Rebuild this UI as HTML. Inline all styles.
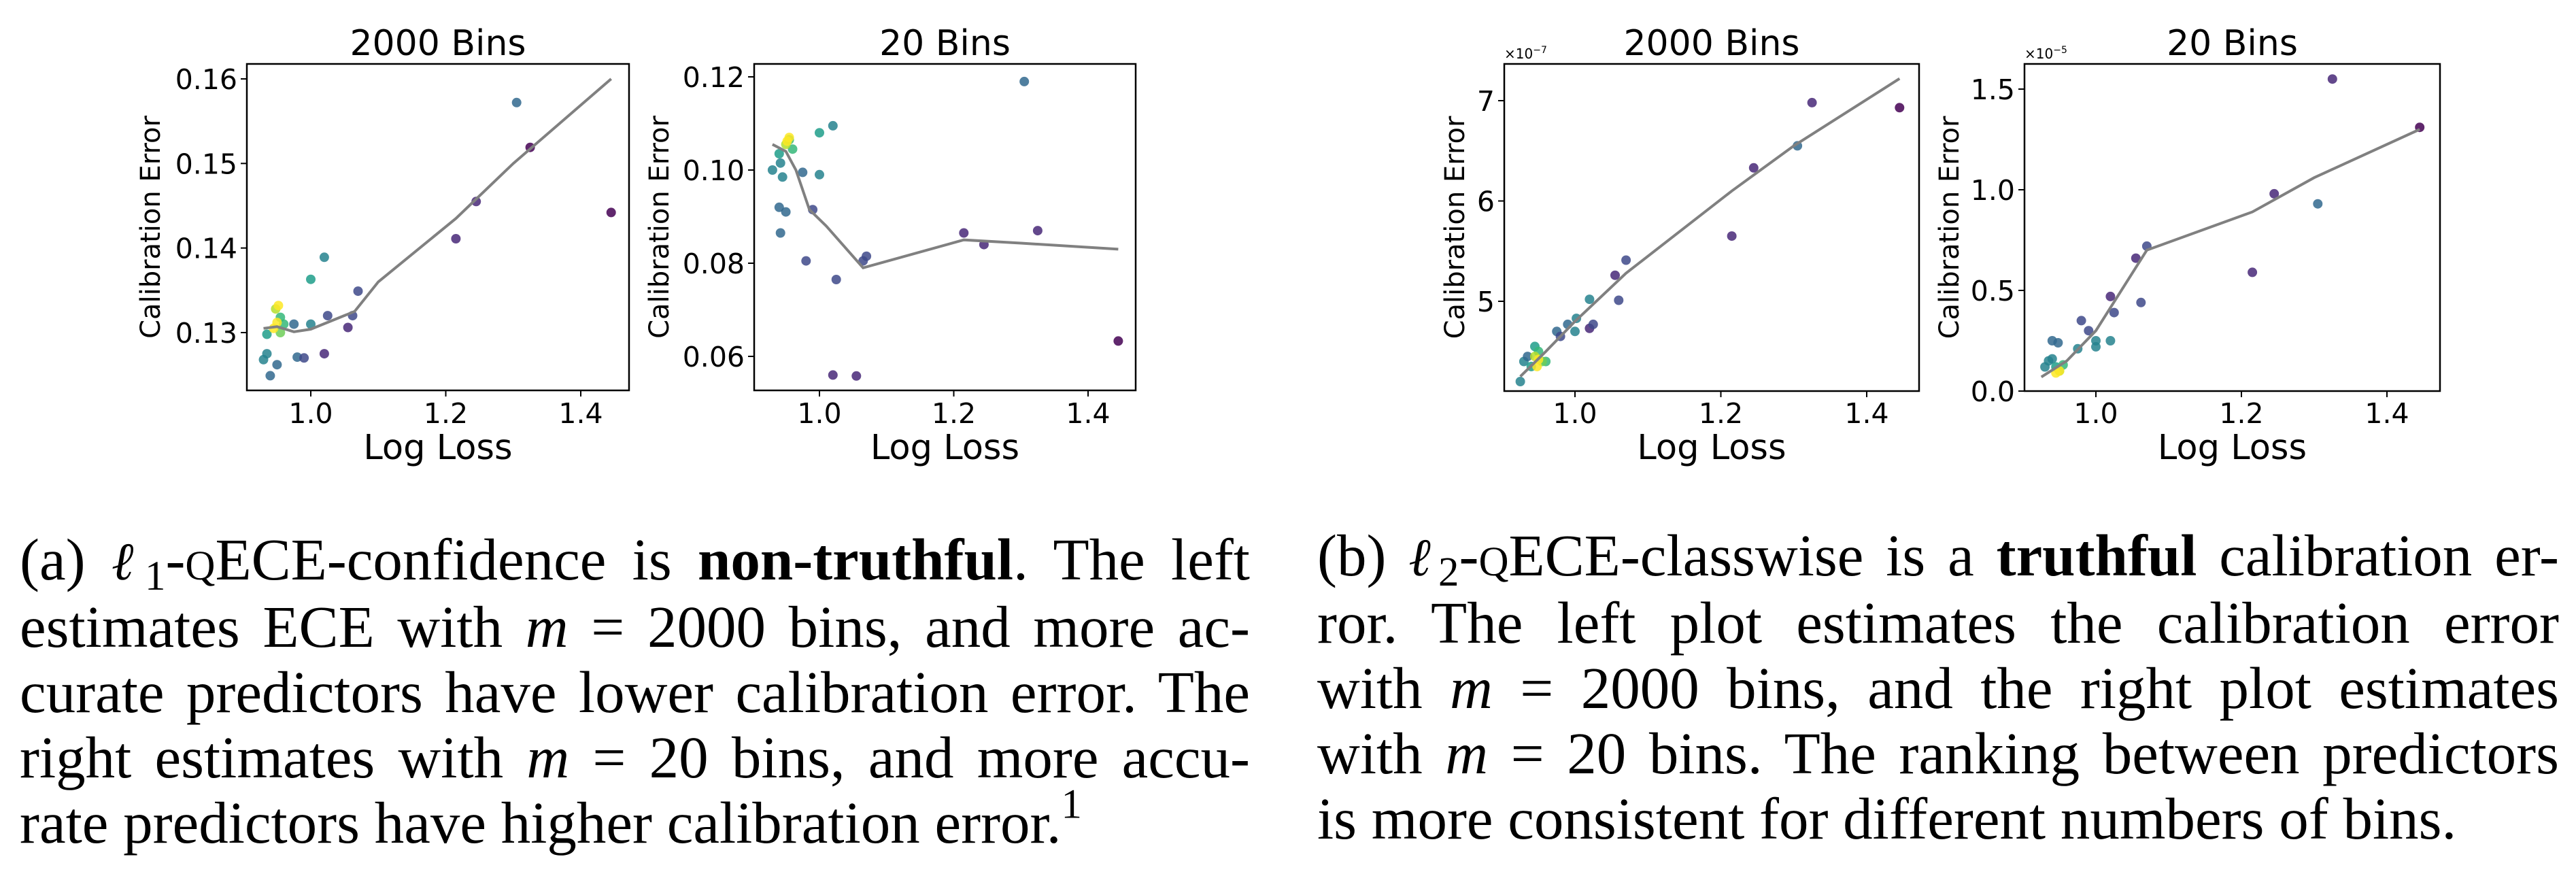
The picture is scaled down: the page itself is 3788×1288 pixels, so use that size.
<!DOCTYPE html>
<html><head><meta charset="utf-8"><style>
html,body{margin:0;padding:0;background:#fff;}
body{width:3788px;height:1288px;position:relative;overflow:hidden;}
svg{position:absolute;left:0;top:0;}
.cap{position:absolute;font-family:"Liberation Serif",serif;font-size:87px;line-height:96px;color:#000;}
.cap div{white-space:nowrap;text-align:justify;text-align-last:justify;}
.cap div.last{text-align:left;text-align-last:left;}
.sc{font-variant:small-caps;}
i{font-style:italic;}
.ell{font-family:"DejaVu Serif",serif;font-style:italic;font-size:0.9em;}
sub{font-size:0.7em;vertical-align:-0.25em;line-height:0;}
sup{font-size:0.7em;vertical-align:0.6em;line-height:0;}
</style></head><body>
<svg id="s" width="3788" height="1288" xmlns="http://www.w3.org/2000/svg"></svg>
<div class="cap" style="left:29px;top:775px;width:1809px;">
<div>(a) <span class="ell">ℓ</span><sub>1</sub>-<span class="sc">q</span>ECE-confidence is <b>non-truthful</b>. The left</div>
<div>estimates ECE with <i>m</i> = 2000 bins, and more ac-</div>
<div>curate predictors have lower calibration error. The</div>
<div>right estimates with <i>m</i> = 20 bins, and more accu-</div>
<div class="last">rate predictors have higher calibration error.<sup>1</sup></div>
</div>
<div class="cap" style="left:1937px;top:769px;width:1826px;">
<div>(b) <span class="ell">ℓ</span><sub>2</sub>-<span class="sc">q</span>ECE-classwise is a <b>truthful</b> calibration er-</div>
<div>ror. The left plot estimates the calibration error</div>
<div>with <i>m</i> = 2000 bins, and the right plot estimates</div>
<div>with <i>m</i> = 20 bins. The ranking between predictors</div>
<div class="last">is more consistent for different numbers of bins.</div>
</div>
<script>
var C={dp:'#440154',p:'#482878',i:'#3e4989',b:'#31688e',t:'#26828e',t2:'#1f9e89',g:'#35b779',lg:'#6ece58',yg:'#b5de2b',y:'#fde725'};
var plots=[
{x0:363,x1:925,y0:94,y1:574,ax:[1,457,1.4,854],ay:[0.13,489,0.16,116],yt:[0.13,0.14,0.15,0.16],yf:2,ylx:220,title:'2000 Bins',
pts:[[0.93,0.1268,'t'],[0.935,0.1275,'t'],[0.94,0.1249,'b'],[0.95,0.1262,'b'],[0.935,0.1298,'t2'],[0.975,0.1310,'b'],[0.98,0.1271,'b'],[0.99,0.1270,'i'],[1.0,0.1310,'t'],[1.0,0.1363,'t2'],[1.02,0.1389,'t'],[1.025,0.1320,'i'],[1.02,0.1275,'p'],[1.055,0.1306,'p'],[1.062,0.1320,'i'],[1.07,0.1349,'i'],[1.215,0.1411,'p'],[1.245,0.1455,'p'],[1.305,0.1572,'b'],[1.325,0.1519,'dp'],[1.445,0.1442,'dp'],[0.955,0.1318,'g'],[0.96,0.1310,'g'],[0.955,0.1300,'lg'],[0.948,0.1328,'yg'],[0.952,0.1332,'y'],[0.945,0.1305,'y'],[0.95,0.1312,'y']],
line:[[0.93,0.1305],[0.95,0.1307],[0.975,0.1301],[1.0,0.1304],[1.065,0.1325],[1.1,0.136],[1.215,0.1435],[1.3,0.150],[1.445,0.160]]},
{x0:1109,x1:1670,y0:94,y1:574,ax:[1,1205,1.4,1600],ay:[0.06,524,0.12,113],yt:[0.06,0.08,0.10,0.12],yf:2,ylx:968,title:'20 Bins',
pts:[[0.93,0.100,'t'],[0.94,0.092,'b'],[0.942,0.0865,'b'],[0.942,0.1015,'t'],[0.945,0.0985,'t'],[0.95,0.091,'b'],[0.975,0.0995,'b'],[0.98,0.0805,'i'],[0.99,0.0915,'i'],[1.0,0.099,'t'],[1.0,0.108,'t2'],[1.02,0.1095,'t'],[1.02,0.056,'p'],[1.025,0.0765,'i'],[1.055,0.0558,'p'],[1.065,0.0805,'i'],[1.07,0.0815,'i'],[1.215,0.0865,'p'],[1.245,0.084,'p'],[1.305,0.119,'b'],[1.325,0.087,'p'],[1.445,0.0633,'dp'],[0.94,0.1035,'t2'],[0.96,0.1045,'g'],[0.955,0.1065,'g'],[0.95,0.1055,'yg'],[0.955,0.107,'y'],[0.952,0.1062,'y']],
line:[[0.93,0.1055],[0.95,0.104],[0.965,0.1],[0.985,0.0915],[1.01,0.088],[1.065,0.079],[1.215,0.085],[1.3,0.0843],[1.445,0.083]]},
{x0:2212,x1:2822,y0:94,y1:575,ax:[1,2316,1.4,2745],ay:[5,443,7,148],yt:[5,6,7],yf:0,ylx:2138,title:'2000 Bins',mult:'×10',exp:'−7',
pts:[[0.925,4.2,'t'],[0.93,4.4,'t'],[0.935,4.45,'b'],[0.975,4.7,'b'],[0.98,4.65,'i'],[0.99,4.77,'b'],[1.0,4.7,'t'],[1.002,4.83,'t'],[1.02,5.02,'t'],[1.02,4.73,'p'],[1.025,4.77,'i'],[1.055,5.26,'p'],[1.06,5.01,'i'],[1.07,5.41,'i'],[1.215,5.65,'p'],[1.245,6.33,'p'],[1.305,6.55,'b'],[1.325,6.98,'p'],[1.445,6.93,'dp'],[0.94,4.35,'t2'],[0.945,4.55,'t2'],[0.95,4.5,'g'],[0.96,4.4,'g'],[0.955,4.4,'lg'],[0.945,4.45,'yg'],[0.948,4.35,'y'],[0.95,4.42,'y']],
line:[[0.925,4.25],[0.96,4.5],[1.0,4.8],[1.07,5.28],[1.215,6.1],[1.3,6.55],[1.445,7.22]]},
{x0:2977,x1:3588,y0:94,y1:575,ax:[1,3082,1.4,3510],ay:[0,575,1.5,131],yt:[0,0.5,1.0,1.5],yf:1,ylx:2865,title:'20 Bins',mult:'×10',exp:'−5',
pts:[[0.93,0.12,'t'],[0.935,0.15,'t'],[0.94,0.25,'b'],[0.948,0.24,'b'],[0.94,0.16,'t'],[0.975,0.21,'t'],[0.98,0.35,'i'],[0.99,0.3,'i'],[1.0,0.22,'t'],[1.0,0.25,'t'],[1.02,0.25,'t'],[1.02,0.47,'p'],[1.025,0.39,'i'],[1.055,0.66,'p'],[1.062,0.44,'i'],[1.07,0.72,'i'],[1.215,0.59,'p'],[1.245,0.98,'p'],[1.305,0.93,'b'],[1.325,1.55,'p'],[1.445,1.31,'dp'],[0.945,0.12,'t2'],[0.955,0.13,'g'],[0.95,0.1,'lg'],[0.945,0.09,'y'],[0.95,0.1,'y']],
line:[[0.925,0.07],[0.96,0.15],[1.0,0.3],[1.07,0.7],[1.215,0.89],[1.3,1.06],[1.445,1.3]]}
];
var h='';
plots.forEach(function(P){
 var fx=function(v){return P.ax[1]+(v-P.ax[0])*(P.ax[3]-P.ax[1])/(P.ax[2]-P.ax[0]);};
 var fy=function(v){return P.ay[1]+(v-P.ay[0])*(P.ay[3]-P.ay[1])/(P.ay[2]-P.ay[0]);};
 P.pts.forEach(function(p){h+='<circle cx="'+fx(p[0]).toFixed(1)+'" cy="'+fy(p[1]).toFixed(1)+'" r="7" fill="'+C[p[2]]+'" fill-opacity="0.85"/>';});
 h+='<polyline fill="none" stroke="#808080" stroke-width="4" points="'+P.line.map(function(q){return fx(q[0]).toFixed(1)+','+fy(q[1]).toFixed(1);}).join(' ')+'"/>';
 h+='<rect x="'+P.x0+'" y="'+P.y0+'" width="'+(P.x1-P.x0)+'" height="'+(P.y1-P.y0)+'" fill="none" stroke="#000" stroke-width="2.5"/>';
 [1.0,1.2,1.4].forEach(function(v){var x=fx(v);h+='<line x1="'+x+'" y1="'+P.y1+'" x2="'+x+'" y2="'+(P.y1+9)+'" stroke="#000" stroke-width="2"/>';
  h+='<text x="'+x+'" y="622" font-size="41" text-anchor="middle" font-family="DejaVu Sans,sans-serif">'+v.toFixed(1)+'</text>';});
 P.yt.forEach(function(v){var y=fy(v);h+='<line x1="'+(P.x0-9)+'" y1="'+y+'" x2="'+P.x0+'" y2="'+y+'" stroke="#000" stroke-width="2"/>';
  h+='<text x="'+(P.x0-14)+'" y="'+(y+15)+'" font-size="41" text-anchor="end" font-family="DejaVu Sans,sans-serif">'+v.toFixed(P.yf)+'</text>';});
 var cx=(P.x0+P.x1)/2;
 h+='<text x="'+cx+'" y="81" font-size="52" text-anchor="middle" font-family="DejaVu Sans,sans-serif">'+P.title+'</text>';
 h+='<text x="'+cx+'" y="675" font-size="51" text-anchor="middle" font-family="DejaVu Sans,sans-serif">Log Loss</text>';
 var yc=(P.y0+P.y1)/2;
 h+='<text transform="translate('+(P.ylx+15)+','+yc+') rotate(-90)" font-size="40" text-anchor="middle" font-family="DejaVu Sans,sans-serif">Calibration Error</text>';
 if(P.mult){h+='<text x="'+P.x0+'" y="86" font-size="20" font-family="DejaVu Sans,sans-serif">'+P.mult+'<tspan font-size="14" dy="-8">'+P.exp+'</tspan></text>';}
});
document.getElementById('s').innerHTML=h;
</script>
</body></html>
